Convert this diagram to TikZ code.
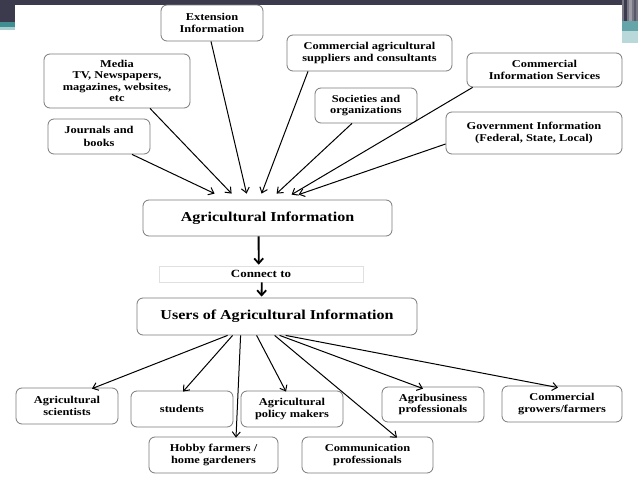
\documentclass[tikz,border=0pt]{standalone}
\usepackage{fontspec}
\setmainfont[FakeStretch=1.18]{Liberation Serif}
\usetikzlibrary{arrows.meta,calc}
\definecolor{slate}{HTML}{3C3B4E}
\definecolor{tealA}{HTML}{3F8E92}
\definecolor{tealB}{HTML}{A8CED0}
\definecolor{boxgray}{HTML}{7A7A7A}
\tikzset{
  box/.style={draw=boxgray, line width=0.8pt, rounded corners=6pt, align=center,
    font=\bfseries\fontsize{10.5}{11.5}\selectfont, inner sep=0pt, text=black},
  bigbox/.style={box, font=\bfseries\fontsize{13.6}{15}\selectfont},
  arr/.style={-{Straight Barb[length=5pt,width=8pt]}, line width=1pt},
  thickarr/.style={-{Straight Barb[length=5pt,width=9pt]}, line width=1.8pt},
}
\begin{document}
\begin{tikzpicture}[x=1pt,y=-1pt]
\useasboundingbox (0,0) rectangle (638,478);
\fill[white] (0,0) rectangle (638,478);
% slide decorations
\fill[slate] (0,0) rectangle (622,5);
\fill[slate] (0,0) rectangle (15,22);
\fill[tealA] (0,22) rectangle (15,27);
\fill[tealB] (0,27) rectangle (15,30);
\fill[slate!70] (622,0) rectangle (638,21);
\fill[slate] (624,0) rectangle (627,21);
\fill[slate!50] (629,0) rectangle (632,21);
\fill[slate!85] (634,0) rectangle (636,21);
\fill[tealA!80] (622,21) rectangle (638,31);
\fill[tealB!80] (622,31) rectangle (638,43);
% source boxes
\node[box, minimum width=102, minimum height=36] (ext) at (212,23) {Extension\\Information};
\node[box, minimum width=146, minimum height=54] (media) at (117,81) {Media\\TV, Newspapers,\\magazines, websites,\\etc};
\node[box, minimum width=102, minimum height=35, font=\bfseries\fontsize{10.5}{13}\selectfont] (jour) at (99,136.5) {Journals and\\books};
\node[box, minimum width=165, minimum height=36] (comag) at (369.5,53) {Commercial agricultural\\suppliers and consultants};
\node[box, minimum width=102, minimum height=35] (soc) at (366,105.5) {Societies and\\organizations};
\node[box, minimum width=155, minimum height=34] (cis) at (544.5,70) {Commercial\\Information Services};
\node[box, minimum width=176, minimum height=42] (gov) at (534,133) {Government Information\\(Federal, State, Local)};
% main boxes
\node[bigbox, minimum width=249, minimum height=36] (agri) at (267.5,218) {Agricultural Information};
\node[draw=black!12, line width=0.6pt, minimum width=204, minimum height=16, inner sep=0pt,
  font=\bfseries\fontsize{11}{12}\selectfont] (conn) at (261,274) {Connect to};
\node[bigbox, minimum width=280, minimum height=37] (users) at (277,316.5) {Users of Agricultural Information};
% user boxes
\node[box, minimum width=102, minimum height=36] (sci) at (67,406) {Agricultural\\scientists};
\node[box, minimum width=102, minimum height=36] (stud) at (182,409) {students};
\node[box, minimum width=102, minimum height=36] (pol) at (292,409) {Agricultural\\policy makers};
\node[box, minimum width=129, minimum height=36] (hobby) at (213.5,455) {Hobby farmers /\\home gardeners};
\node[box, minimum width=131, minimum height=36] (comm) at (367.5,455) {Communication\\professionals};
\node[box, minimum width=102, minimum height=35] (agb) at (433,404.5) {Agribusiness\\professionals};
\node[box, minimum width=120, minimum height=36] (grow) at (562,404) {Commercial\\growers/farmers};
% incoming arrows
\draw[arr] ($(jour.south)+(33,0)$) -- ($(agri.north west)+(72,-6)$);
\draw[arr] ($(media.south)+(33,0)$) -- ($(agri.north west)+(89,-6)$);
\draw[arr] ($(ext.south)+(-1,0)$) -- ($(agri.north west)+(104,-6)$);
\draw[arr] ($(comag.south)+(-61.5,0)$) -- ($(agri.north west)+(119,-6)$);
\draw[arr] ($(soc.south)+(-14,0)$) -- ($(agri.north west)+(134,-6)$);
\draw[arr] ($(cis.south west)+(6,0)$) -- ($(agri.north west)+(149,-5)$);
\draw[arr] ($(gov.west)+(0,11)$) -- ($(agri.north west)+(156,-5)$);
% vertical flow
\draw[thickarr] ($(agri.south west)+(116,0)$) -- ($(conn.north west)+(100,-1)$);
\draw[thickarr] ($(conn.south west)+(103,0)$) -- ($(users.north west)+(125,-1)$);
% outgoing arrows
\draw[arr] ($(users.south west)+(91,0)$) -- ($(sci.north)+(25,1)$);
\draw[arr] ($(users.south west)+(96,0)$) -- ($(stud.north)+(1,1)$);
\draw[arr] ($(users.south west)+(104,0)$) -- ($(hobby.north)+(22.5,1)$);
\draw[arr] ($(users.south west)+(120,0)$) -- ($(pol.north)+(-6,1)$);
\draw[arr] ($(users.south west)+(138,0)$) -- ($(comm.north)+(29.5,1)$);
\draw[arr] ($(users.south west)+(143,0)$) -- ($(agb.north)+(-10,2)$);
\draw[arr] ($(users.south west)+(149,0)$) -- ($(grow.north)+(-4,2)$);
\end{tikzpicture}
\end{document}
